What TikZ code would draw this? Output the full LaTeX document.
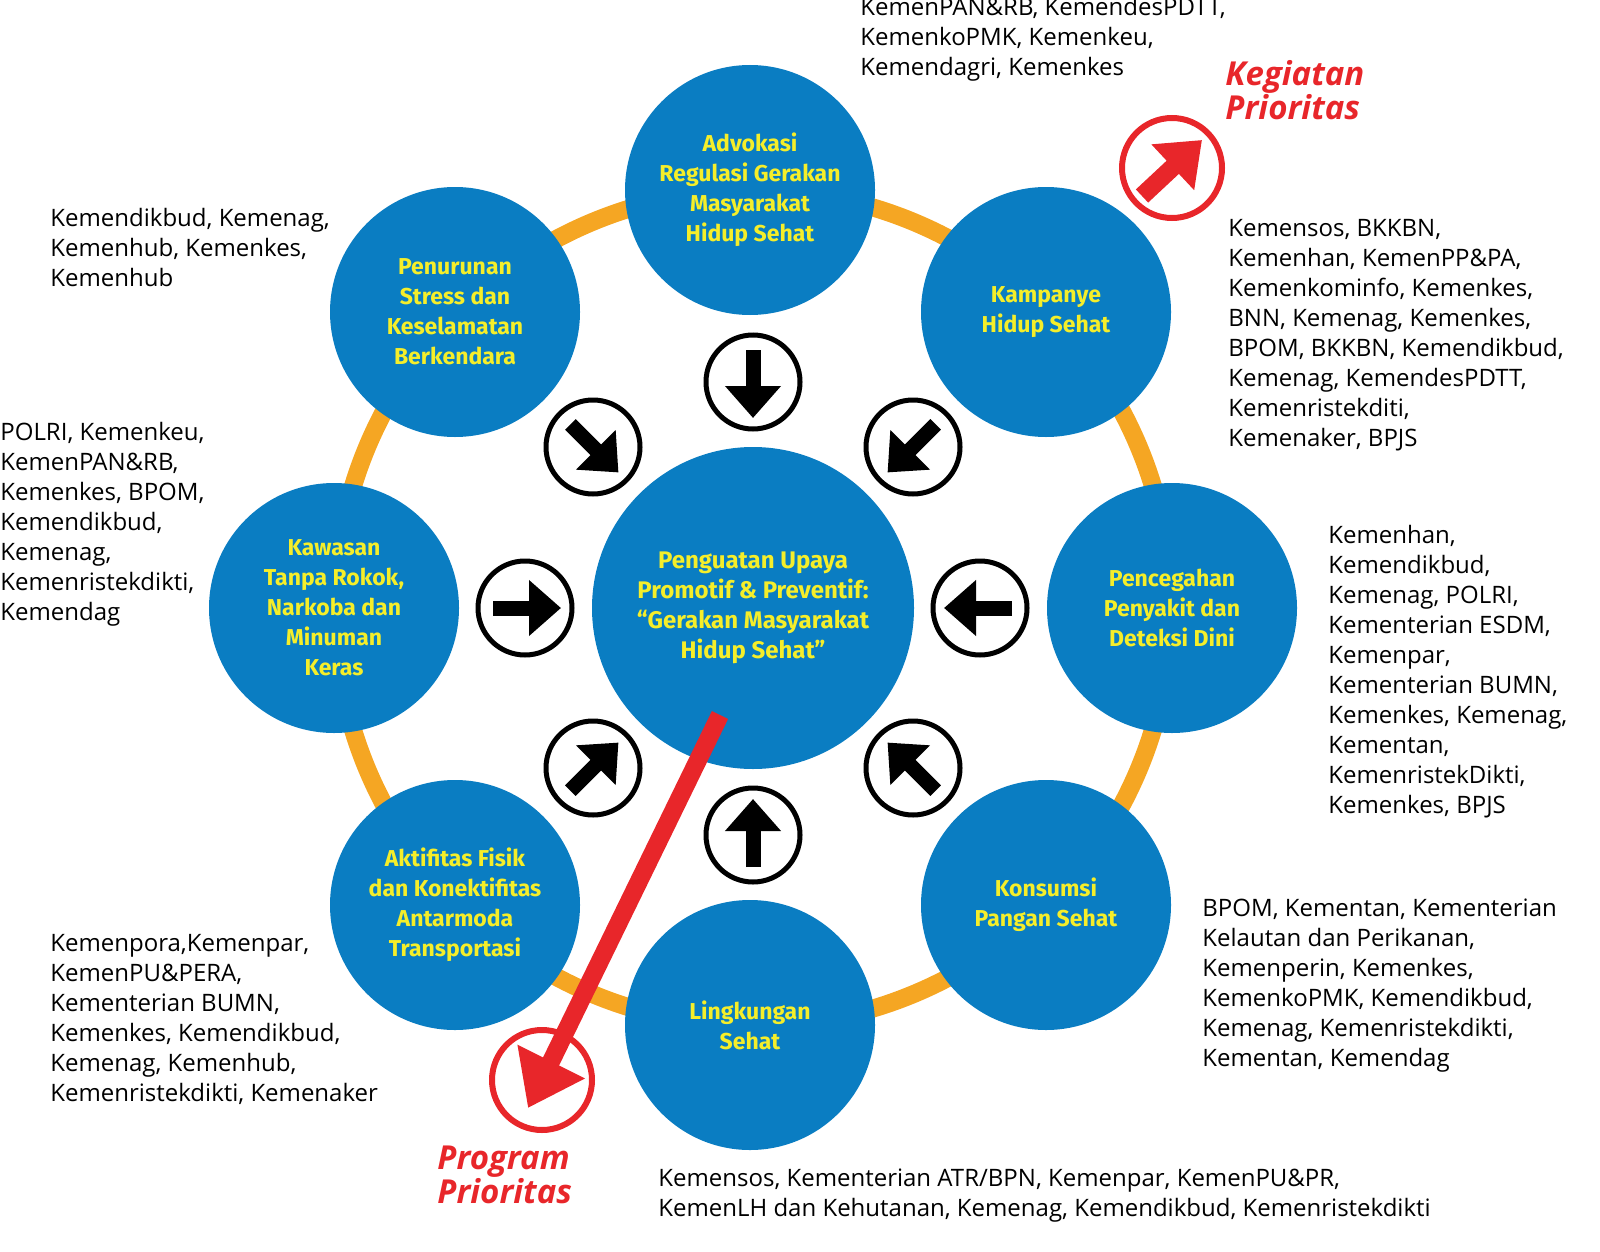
\documentclass[tikz,border=0pt]{standalone}
\usepackage{fontspec}
\setmainfont{Open Sans}
\newfontfamily\circfont{Fira Sans}
\usetikzlibrary{arrows.meta}
\definecolor{cblue}{HTML}{0A7DC2}
\definecolor{cyel}{HTML}{F5EE2A}
\definecolor{corange}{HTML}{F5A623}
\definecolor{cred}{HTML}{E8262A}
\begin{document}
\begin{tikzpicture}[x=0.5pt,y=-0.5pt,
  big/.style={circle,fill=cblue,minimum size=125pt,inner sep=0pt,text=cyel,align=center,font=\circfont\bfseries\fontsize{11.5}{15}\selectfont},
  ring/.style={circle,draw=black,line width=2.5pt,fill=white,minimum size=47pt,inner sep=0pt},
  blk/.style={line width=7.5pt,-{Triangle[length=16pt,width=27pt]}},
  lab/.style={anchor=north west,align=left,inner sep=0pt,font=\fontsize{12}{15}\selectfont},
  red/.style={text=cred,font=\bfseries\itshape\fontsize{16.5}{17}\selectfont,align=left,anchor=north west,inner sep=0pt}]
\useasboundingbox (0,0) rectangle (1600,1252);
\draw[corange,line width=9pt] (753,608) circle[radius=418];
\node[big] (t) at (750,190) {Advokasi\\Regulasi Gerakan\\Masyarakat\\Hidup Sehat};
\node[big] (tr) at (1046,312) {Kampanye\\Hidup Sehat};
\node[big] (r) at (1172,608) {Pencegahan\\Penyakit dan\\Deteksi Dini};
\node[big] (br) at (1046,905) {Konsumsi\\Pangan Sehat};
\node[big] (b) at (750,1025) {Lingkungan\\Sehat};
\node[big] (bl) at (455,905) {Aktifitas Fisik\\dan Konektifitas\\Antarmoda\\Transportasi};
\node[big] (l) at (334,608) {Kawasan\\Tanpa Rokok,\\Narkoba dan\\Minuman\\Keras};
\node[big] (tl) at (455,312) {Penurunan\\Stress dan\\Keselamatan\\Berkendara};
\node[big,minimum size=161pt,font=\circfont\bfseries\fontsize{12}{15}\selectfont] (c) at (753,608) {Penguatan Upaya\\Promotif \& Preventif:\\“Gerakan Masyarakat\\Hidup Sehat”};
\foreach \n/\x/\y/\a in {a1/753/382/90,a2/593/447/45,a3/913/447/135,a4/525/608/0,a5/980/608/180,a6/593/768/-45,a7/913/768/-135,a8/753/835/-90}{
  \node[ring] (\n) at (\x,\y) {};
  \draw[blk] ([shift={(\a+180:32)}]\n.center) -- ([shift={(\a:36)}]\n.center);
}
% red program arrow
\node[circle,draw=cred,line width=3pt,minimum size=50pt,inner sep=0pt] (pc) at (542,1080) {};
\coordinate (ps) at (720,715);
\draw[cred,line width=9pt,-{Triangle[length=26pt,width=36pt]}] (ps) -- (pc.center) -- ++(-14,28);
\node[circle,draw=cred,line width=3pt,minimum size=50pt,inner sep=0pt] (kc) at (1172,168) {};
\draw[cred,line width=9pt,-{Triangle[length=20pt,width=30pt]}] ([shift={(-30,28)}]kc.center) -- ([shift={(30,-28)}]kc.center);
\node[red] (kp) at (1225,60) {Kegiatan\\Prioritas};
\node[red] (pp) at (437,1146) {Program\\Prioritas};
% labels
\node[lab] (l1) at (860,-3) {KemenPAN\&RB, KemendesPDTT,\\KemenkoPMK, Kemenkeu,\\Kemendagri, Kemenkes};
\node[lab] (l2) at (1228,219) {Kemensos, BKKBN,\\Kemenhan, KemenPP\&PA,\\Kemenkominfo, Kemenkes,\\BNN, Kemenag, Kemenkes,\\BPOM, BKKBN, Kemendikbud,\\Kemenag, KemendesPDTT,\\Kemenristekditi,\\Kemenaker, BPJS};
\node[lab] (l3) at (1328,525) {Kemenhan,\\Kemendikbud,\\Kemenag, POLRI,\\Kementerian ESDM,\\Kemenpar,\\Kementerian BUMN,\\Kemenkes, Kemenag,\\Kementan,\\KemenristekDikti,\\Kemenkes, BPJS};
\node[lab] (l4) at (1202,898) {BPOM, Kementan, Kementerian\\Kelautan dan Perikanan,\\Kemenperin, Kemenkes,\\KemenkoPMK, Kemendikbud,\\Kemenag, Kemenristekdikti,\\Kementan, Kemendag};
\node[lab] (l5) at (658,1168) {Kemensos, Kementerian ATR/BPN, Kemenpar, KemenPU\&PR,\\KemenLH dan Kehutanan, Kemenag, Kemendikbud, Kemenristekdikti};
\node[lab] (l6) at (50,934) {Kemenpora,Kemenpar,\\KemenPU\&PERA,\\Kementerian BUMN,\\Kemenkes, Kemendikbud,\\Kemenag, Kemenhub,\\Kemenristekdikti, Kemenaker};
\node[lab] (l7) at (0,422) {POLRI, Kemenkeu,\\KemenPAN\&RB,\\Kemenkes, BPOM,\\Kemendikbud,\\Kemenag,\\Kemenristekdikti,\\Kemendag};
\node[lab] (l8) at (50,208) {Kemendikbud, Kemenag,\\Kemenhub, Kemenkes,\\Kemenhub};
\end{tikzpicture}
\end{document}
